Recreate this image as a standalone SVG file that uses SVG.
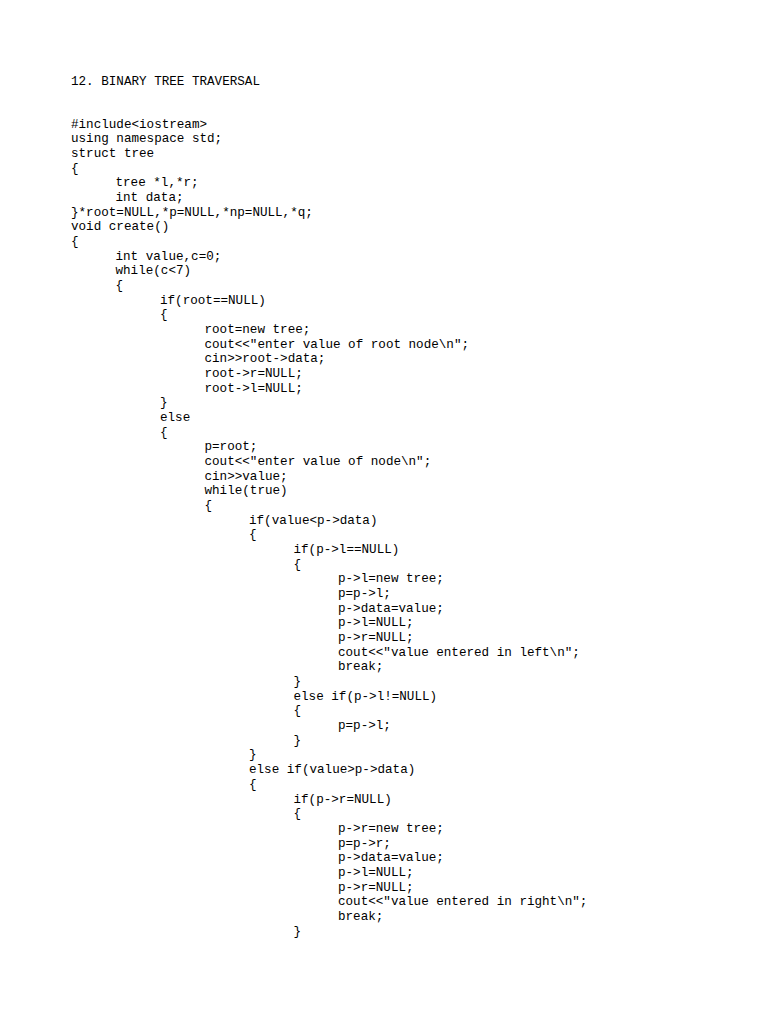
<svg xmlns="http://www.w3.org/2000/svg" width="768" height="1024" viewBox="0 0 768 1024">
<style>text{font-family:"Liberation Mono","DejaVu Sans Mono",monospace;font-size:12.6px;fill:#000}</style>
<rect width="768" height="1024" fill="#fff"/>
<text x="71" y="84.5">12. BINARY TREE TRAVERSAL</text>
<g id="code">
<text x="71" y="127.5">#include&lt;iostream&gt;</text>
<text x="71" y="142.2">using namespace std;</text>
<text x="71" y="156.8">struct tree</text>
<text x="71" y="171.5">{</text>
<text x="115.5" y="186.2">tree *l,*r;</text>
<text x="115.5" y="200.9">int data;</text>
<text x="71" y="215.5">}*root=NULL,*p=NULL,*np=NULL,*q;</text>
<text x="71" y="230.2">void create()</text>
<text x="71" y="244.9">{</text>
<text x="115.5" y="259.6">int value,c=0;</text>
<text x="115.5" y="274.2">while(c&lt;7)</text>
<text x="115.5" y="288.9">{</text>
<text x="160" y="303.6">if(root==NULL)</text>
<text x="160" y="318.3">{</text>
<text x="204.5" y="332.9">root=new tree;</text>
<text x="204.5" y="347.6">cout&lt;&lt;"enter value of root node\n";</text>
<text x="204.5" y="362.3">cin&gt;&gt;root-&gt;data;</text>
<text x="204.5" y="376.9">root-&gt;r=NULL;</text>
<text x="204.5" y="391.6">root-&gt;l=NULL;</text>
<text x="160" y="406.3">}</text>
<text x="160" y="421.0">else</text>
<text x="160" y="435.6">{</text>
<text x="204.5" y="450.3">p=root;</text>
<text x="204.5" y="465.0">cout&lt;&lt;"enter value of node\n";</text>
<text x="204.5" y="479.7">cin&gt;&gt;value;</text>
<text x="204.5" y="494.3">while(true)</text>
<text x="204.5" y="509.0">{</text>
<text x="249" y="523.7">if(value&lt;p-&gt;data)</text>
<text x="249" y="538.3">{</text>
<text x="293.5" y="553.0">if(p-&gt;l==NULL)</text>
<text x="293.5" y="567.7">{</text>
<text x="338" y="582.4">p-&gt;l=new tree;</text>
<text x="338" y="597.0">p=p-&gt;l;</text>
<text x="338" y="611.7">p-&gt;data=value;</text>
<text x="338" y="626.4">p-&gt;l=NULL;</text>
<text x="338" y="641.1">p-&gt;r=NULL;</text>
<text x="338" y="655.7">cout&lt;&lt;"value entered in left\n";</text>
<text x="338" y="670.4">break;</text>
<text x="293.5" y="685.1">}</text>
<text x="293.5" y="699.8">else if(p-&gt;l!=NULL)</text>
<text x="293.5" y="714.4">{</text>
<text x="338" y="729.1">p=p-&gt;l;</text>
<text x="293.5" y="743.8">}</text>
<text x="249" y="758.4">}</text>
<text x="249" y="773.1">else if(value&gt;p-&gt;data)</text>
<text x="249" y="787.8">{</text>
<text x="293.5" y="802.5">if(p-&gt;r=NULL)</text>
<text x="293.5" y="817.1">{</text>
<text x="338" y="831.8">p-&gt;r=new tree;</text>
<text x="338" y="846.5">p=p-&gt;r;</text>
<text x="338" y="861.2">p-&gt;data=value;</text>
<text x="338" y="875.8">p-&gt;l=NULL;</text>
<text x="338" y="890.5">p-&gt;r=NULL;</text>
<text x="338" y="905.2">cout&lt;&lt;"value entered in right\n";</text>
<text x="338" y="919.9">break;</text>
<text x="293.5" y="934.5">}</text>
</g>
</svg>
